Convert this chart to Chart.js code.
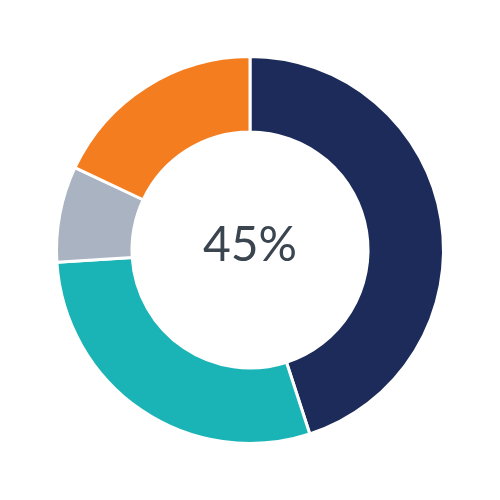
<!DOCTYPE html>
<html lang="en">
<head>
    <meta charset="UTF-8">
    <title>Donut</title>
    <script src="https://cdn.jsdelivr.net/npm/chart.js"></script>
    <style>
        html, body { margin: 0; padding: 0; background: #fff; }
        .chart-box { width: 500px; height: 500px; }
    </style>
</head>
<body>
    <div class="chart-box">
        <canvas id="donutChart"></canvas>
    </div>
    <script>
        const labels = ['Navy', 'Teal', 'Gray', 'Orange'];
        const values = [45, 29, 8, 18];
        const colors = ['#1c2b59', '#1bb4b6', '#a9b3c1', '#f47d20'];
        const centerLabel = '45%';

        const centerText = {
            id: 'centerText',
            afterDraw(chart) {
                const ctx = chart.ctx;
                const meta = chart.getDatasetMeta(0).data[0];
                ctx.save();
                ctx.font = '400 48px Lato';
                ctx.fillStyle = '#3b4550';
                ctx.textAlign = 'center';
                ctx.textBaseline = 'middle';
                ctx.fillText(centerLabel, meta.x, meta.y - 4);
                ctx.restore();
            }
        };

        new Chart(document.getElementById('donutChart'), {
            type: 'doughnut',
            data: {
                labels: labels,
                datasets: [{
                    data: values,
                    backgroundColor: colors,
                    borderColor: '#ffffff',
                    borderWidth: 3
                }]
            },
            options: {
                responsive: true,
                maintainAspectRatio: false,
                animation: false,
                cutout: '61%',
                layout: { padding: 55 },
                plugins: {
                    legend: { display: false },
                    tooltip: { enabled: false }
                }
            },
            plugins: [centerText]
        });
    </script>
</body>
</html>
